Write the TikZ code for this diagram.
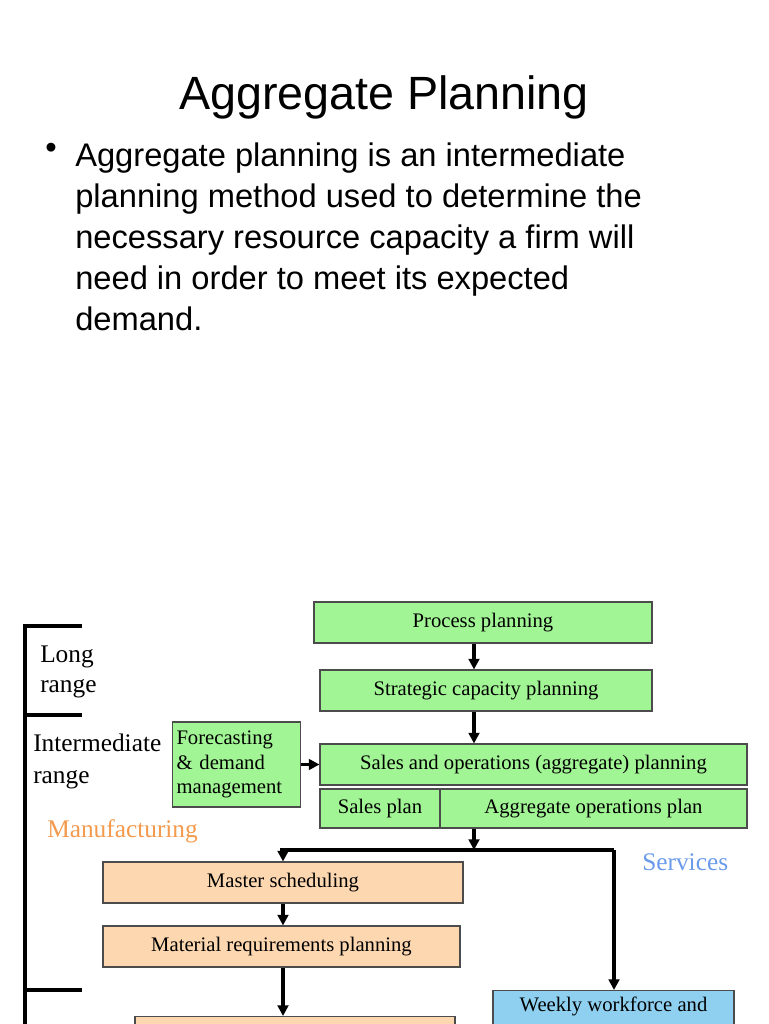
\documentclass[tikz,border=0pt]{standalone}
\usepackage{fontspec}
\usetikzlibrary{arrows.meta}
\setmainfont{Liberation Serif}
\newfontfamily\hv{Liberation Sans}
\definecolor{gbox}{HTML}{A2F595}
\definecolor{obox}{HTML}{FDD7B0}
\definecolor{bbox}{HTML}{8FD0F0}
\definecolor{otxt}{HTML}{F39A4E}
\definecolor{btxt}{HTML}{6A9BEA}
\begin{document}
\begin{tikzpicture}[x=0.75pt,y=-0.75pt,
 bx/.style={draw=black!70, line width=0.8pt, font=\fontsize{15.5}{17}\selectfont, inner sep=0pt},
 ar/.style={line width=2.4pt, -{Triangle[length=8pt,width=8pt]}},
 ln/.style={line width=2.4pt}]
\useasboundingbox (0,0) rectangle (768,1024);
\node[font=\hv\fontsize{35}{40}\selectfont] (title) at (384,97) {Aggregate Planning};
\node[font=\hv\fontsize{24.5}{30.75}\selectfont, anchor=north west, align=left, inner sep=0pt] (body) at (75,143) {Aggregate planning is an intermediate\\planning method used to determine the\\necessary resource capacity a firm will\\need in order to meet its expected\\demand.};
\node[font=\hv\fontsize{24.5}{30}\selectfont, anchor=north west, inner sep=0pt] (bul) at (45,143) {•};
% boxes
\node[bx, fill=gbox, minimum width=253.5pt, minimum height=30.75pt] (pp) at (483,622.5) {Process planning};
\node[bx, fill=gbox, minimum width=249pt, minimum height=30.75pt] (scp) at (486,690.5) {Strategic capacity planning};
\node[bx, fill=gbox, minimum width=320.25pt, minimum height=30.75pt] (sop) at (533.5,764.5) {Sales and operations (aggregate) planning};
\node[bx, fill=gbox, minimum width=90pt, minimum height=29.25pt] (sp) at (380,808.5) {Sales plan};
\node[bx, fill=gbox, minimum width=230.25pt, minimum height=29.25pt] (aop) at (593.5,808.5) {Aggregate operations plan};
\node[bx, fill=gbox, minimum width=95.25pt, minimum height=63.75pt, align=left, text width=90pt, inner xsep=3pt, font=\fontsize{15.5}{18.5}\selectfont] (fc) at (236.5,764.5) {Forecasting\\\& demand\\management};
\node[bx, fill=obox, minimum width=270pt, minimum height=30.75pt] (ms) at (283,882.5) {Master scheduling};
\node[bx, fill=obox, minimum width=267.75pt, minimum height=30.75pt] (mrp) at (281.5,946.5) {Material requirements planning};
\node[bx, fill=obox, minimum width=240pt, minimum height=30pt, anchor=north] (bot) at (295,1016) {};
\node[bx, fill=bbox, minimum width=180.75pt, minimum height=40pt, anchor=north, text depth=20pt] (wk) at (613.5,990) {Weekly workforce and};
% arrows
\draw[ar] (pp.south -| 474,0) -- (scp.north -| 474,0);
\draw[ar] (scp.south -| 474,0) -- (sop.north -| 474,0);
\draw[ar] (fc.east) -- (sop.west);
\coordinate (j) at (474,850);
\coordinate (jl) at (280,850);
\coordinate (jr) at (614,850);
\draw[ar] (aop.south -| 474,0) -- (j);
\draw[ln] (jl) -- (jr);
\draw[ar] (jr) -- (wk.north -| jr);
\draw[ar] (283,850) -- (ms.north -| 283,0);
\draw[ar] (ms.south -| 283,0) -- (mrp.north -| 283,0);
\draw[ar] (mrp.south -| 283,0) -- (bot.north -| 283,0);
% bracket
\coordinate (b0) at (25,626); \coordinate (b1) at (25,1024);
\draw[ln] (82,626) -- (b0) -- (b1);
\draw[ln] (25,715) -- (82,715);
\draw[ln] (25,990) -- (82,990);
\node[font=\fontsize{19}{22.5}\selectfont, align=left, anchor=north west, inner sep=0pt] (lr) at (40,646) {Long\\range};
\node[font=\fontsize{19}{24}\selectfont, align=left, anchor=north west, inner sep=0pt] (ir) at (33,734) {Intermediate\\range};
\node[font=\fontsize{19}{22}\selectfont, text=otxt, anchor=west, inner sep=0pt] (mf) at (47,831) {Manufacturing};
\node[font=\fontsize{19}{22}\selectfont, text=btxt, anchor=west, inner sep=0pt] (sv) at (642,862) {Services};
\end{tikzpicture}
\end{document}
